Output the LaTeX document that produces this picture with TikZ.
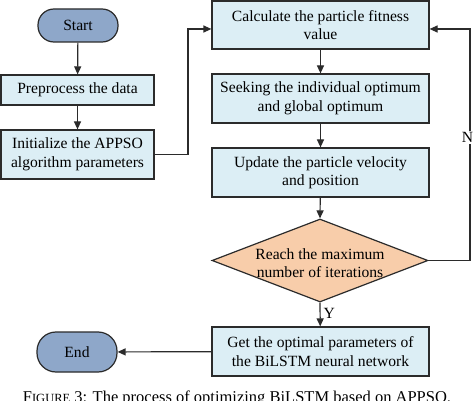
\documentclass[tikz,border=0pt]{standalone}
\usepackage{fontspec}
\setmainfont{Liberation Serif}
\usetikzlibrary{arrows.meta,shapes.geometric}
\definecolor{startfill}{HTML}{8EA7C9}
\definecolor{boxfill}{HTML}{DCEEF5}
\definecolor{diafill}{HTML}{F8CDAA}
\definecolor{edgecol}{HTML}{2B2B2B}
\begin{document}
\begin{tikzpicture}[x=1pt,y=-1pt,
 every node/.style={font=\fontsize{15.6}{18.5}\selectfont, text=black},
 terminal/.style={draw=edgecol,line width=1.2pt,fill=startfill,rounded corners=16pt,minimum width=80pt,minimum height=33pt},
 procbox/.style={draw=edgecol,line width=1.2pt,fill=boxfill,align=center,inner sep=0pt},
 decision/.style={diamond,draw=edgecol,line width=1.2pt,fill=diafill,inner sep=0pt},
 flow/.style={draw=edgecol,line width=1.2pt,-{Triangle[length=8pt,width=7pt]}}
]
\useasboundingbox (0,0) rectangle (474,401);
\clip (0,0) rectangle (474,401);
\fill[white] (0,0) rectangle (474,401);

\node[terminal] (start) at (78,25.5) {Start};
\node[procbox, minimum width=153pt, minimum height=30pt] (pre) at (77.5,90) {Preprocess the data};
\node[procbox, minimum width=153pt, minimum height=49pt] (init) at (77.5,154.5) {Initialize the APPSO\\algorithm parameters};

\node[procbox, minimum width=217pt, minimum height=48pt] (calc) at (320.5,25) {Calculate the particle fitness\\value};
\node[procbox, minimum width=217pt, minimum height=49pt] (seek) at (320.5,98.5) {Seeking the individual optimum\\and global optimum};
\node[procbox, minimum width=217pt, minimum height=49pt] (upd) at (320.5,172.5) {Update the particle velocity\\and position};
\node[decision, minimum width=216pt, minimum height=83pt] (dec) at (320,260.5) {};
\node[align=center, inner sep=0pt] (dectext) at (320,263) {Reach the maximum\\number of iterations};
\node[procbox, minimum width=217pt, minimum height=49pt] (get) at (320.5,351.5) {Get the optimal parameters of\\the BiLSTM neural network};
\node[terminal, minimum height=40pt, rounded corners=19pt] (end) at (77,352) {End};

\coordinate (c1) at (188,154.5);
\coordinate (c2) at (188,29);
\coordinate (r1) at (470,260.5);
\coordinate (r2) at (470,29);

\draw[flow] (start) -- (pre);
\draw[flow] (pre) -- (init);
\draw[flow] (init.east) -- (c1) -- (c2) -- (calc.west |- c2);
\draw[flow] (calc) -- (seek);
\draw[flow] (seek) -- (upd);
\draw[flow] (upd) -- (dec.north);
\draw[flow] (dec.south) -- node[right, inner sep=3pt, yshift=1pt] (ylab) {Y} (get);
\draw[flow] (dec.east) -- (r1) -- node[fill=white, inner sep=1.5pt, pos=0.533, xshift=-2.5pt] (nlab) {N} (r2) -- (calc.east |- r2);
\draw[flow] (get) -- (end);

\node[anchor=base, font=\fontsize{16.5}{18}\selectfont] (cap) at (237,402) {F{\fontsize{12.5}{14}\selectfont IGURE} 3: The process of optimizing BiLSTM based on APPSO.};
\end{tikzpicture}
\end{document}
